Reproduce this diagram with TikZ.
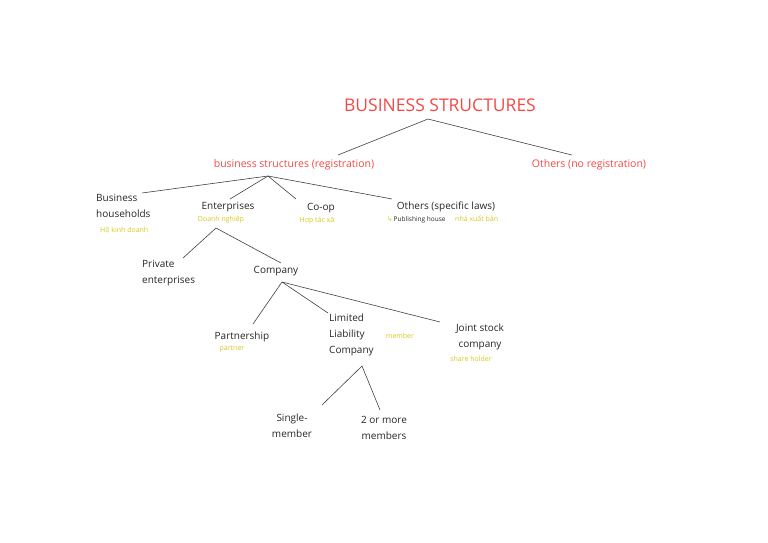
\documentclass[tikz,border=0pt]{standalone}
\usepackage{fontspec}
\setmainfont{Open Sans}
\newfontfamily\sym{DejaVu Sans}
\definecolor{rd}{HTML}{F24A45}
\definecolor{yl}{HTML}{D6C81E}
\begin{document}
\begin{tikzpicture}[x=1pt,y=-1pt,
 tx/.style={font=\fontsize{10}{16}\selectfont,text=black!85,inner sep=0pt,align=left},
 yt/.style={font=\fontsize{7}{8}\selectfont,text=yl,inner sep=0pt},
 rt/.style={font=\fontsize{10.5}{12}\selectfont,text=rd,inner sep=0pt},
 ln/.style={draw=black!75,line width=0.6pt}]
\useasboundingbox (0,0) rectangle (768,542);
\node[rt,font=\fontsize{17.5}{20}\selectfont] (title) at (440,105) {BUSINESS STRUCTURES};
\node[rt] (reg) at (294,165) {business structures (registration)};
\node[rt] (noreg) at (589,165) {Others (no registration)};
\coordinate (t0) at (428,119);
\coordinate (t1) at (338,155);
\coordinate (t2) at (572,155);
\draw[ln] (t1) -- (t0) -- (t2);
\node[tx,anchor=north west] (bh) at (96,194) {Business\\households};
\node[yt,anchor=west] (bhy) at (100,230) {Hộ kinh doanh};
\node[tx] (ent) at (228,207) {Enterprises};
\node[yt] (enty) at (221,220) {Doanh nghiệp};
\node[tx] (coop) at (321,208) {Co-op};
\node[yt] (coopy) at (317,221) {Hợp tác xã};
\node[tx] (oth) at (446,207) {Others (specific laws)};
\node[tx,font=\fontsize{6.5}{8}\selectfont,anchor=west] (pub) at (387,220) {{\sym\color{yl}↳}\,Publishing house};
\node[yt,anchor=west] (puby) at (455,219) {nhà xuất bản};
\coordinate (r0) at (268,176);
\coordinate (a1) at (142,193);
\coordinate (a2) at (230,199);
\coordinate (a3) at (296,199);
\coordinate (a4) at (392,199);
\draw[ln] (r0) -- (a1); \draw[ln] (r0) -- (a2); \draw[ln] (r0) -- (a3); \draw[ln] (r0) -- (a4);
\coordinate (e0) at (216,228);
\coordinate (e1) at (183,258);
\coordinate (e2) at (281,263);
\draw[ln] (e1) -- (e0) -- (e2);
\node[tx,anchor=north west] (priv) at (142,260) {Private\\enterprises};
\node[tx] (comp) at (276,271) {Company};
\coordinate (c0) at (282,282);
\coordinate (c1) at (253,324);
\coordinate (c2) at (328,313);
\coordinate (c3) at (440,322);
\draw[ln] (c0) -- (c1); \draw[ln] (c0) -- (c2); \draw[ln] (c0) -- (c3);
\node[tx] (part) at (242,337) {Partnership};
\node[yt] (party) at (232,349) {partner};
\node[tx,anchor=north west] (llc) at (329,314) {Limited\\Liability\\Company};
\node[yt] (llcy) at (400,336) {member};
\node[tx,align=center] (jsc) at (480,337) {Joint stock\\company};
\node[yt] (jscy) at (471,359) {share holder};
\coordinate (m0) at (362,366);
\coordinate (m1) at (322,405);
\coordinate (m2) at (380,410);
\draw[ln] (m1) -- (m0) -- (m2);
\node[tx,align=center] (single) at (292,426) {Single-\\member};
\node[tx,align=center] (more) at (384,428) {2 or more\\members};
\end{tikzpicture}
\end{document}
